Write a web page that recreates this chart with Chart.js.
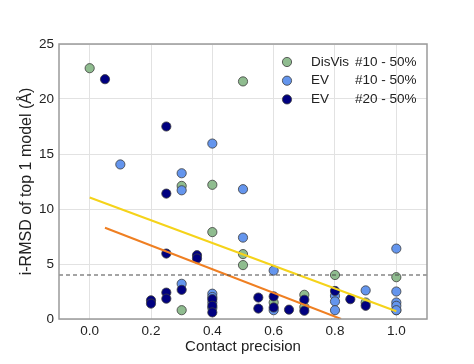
<!DOCTYPE html>
<html>
<head>
<meta charset="utf-8">
<script src="https://cdn.jsdelivr.net/npm/chart.js@4.4.1/dist/chart.umd.min.js"></script>
<style>
html, body { margin: 0; padding: 0; background: #fff; }
</style>
</head>
<body>
<canvas id="myChart" width="474" height="364"></canvas>
<script>
// DisVis #10 - 50%
const disvis_x = [0.0, 0.5, 0.3, 0.4, 0.4, 0.5, 0.5, 0.3, 0.8, 1.0, 0.9, 0.7, 0.7, 0.6, 1.0];
const disvis_y = [22.8, 21.6, 12.1, 12.2, 7.9, 5.9, 4.9, 0.8, 4.0, 3.8, 1.5, 2.2, 1.1, 1.5, 0.8];

// EV #10 - 50%
const ev10_x = [0.1, 0.3, 0.3, 0.4, 0.5, 0.5, 1.0, 0.6, 0.3, 0.4, 0.4, 0.4, 0.4, 0.6, 0.8, 0.8, 0.8, 0.9, 1.0, 1.0, 1.0, 1.0];
const ev10_y = [14.05, 13.25, 11.7, 15.95, 11.8, 7.4, 6.4, 4.4, 3.2, 2.3, 2.0, 1.5, 1.0, 0.8, 2.1, 1.6, 0.8, 2.6, 2.5, 1.5, 1.2, 0.8];

// EV #20 - 50%
const ev20_x = [0.05, 0.25, 0.25, 0.25, 0.35, 0.35, 0.2, 0.2, 0.25, 0.25, 0.3, 0.4, 0.4, 0.4, 0.55, 0.55, 0.6, 0.6, 0.65, 0.7, 0.7, 0.8, 0.85, 0.9];
const ev20_y = [21.8, 17.5, 11.4, 5.95, 5.8, 5.5, 1.7, 1.4, 2.4, 1.85, 2.65, 1.8, 1.2, 0.6, 1.95, 0.95, 2.05, 1.05, 0.85, 1.75, 0.75, 2.55, 1.8, 1.2];

// fit lines (end points)
const fit_disvis_x = [0.0, 1.0];
const fit_disvis_y = [11.05, 0.7];
const fit_ev_x = [0.05, 0.82];
const fit_ev_y = [8.3, 0.0];

const threshold = 4;
const x_ticks = [0.0, 0.2, 0.4, 0.6, 0.8, 1.0];
const y_ticks = [0, 5, 10, 15, 20, 25];

const legend_names = ['DisVis', 'EV', 'EV'];
const legend_runs = ['#10 - 50%', '#10 - 50%', '#20 - 50%'];
const colors = ['#8fbc8f', '#6495ed', '#000080'];

const toPoints = (xs, ys) => xs.map((x, i) => ({ x: x, y: ys[i] }));

const pointSet = (label, xs, ys, color, order) => ({
	label: label,
	data: toPoints(xs, ys),
	backgroundColor: color,
	borderColor: '#3c3c3c',
	borderWidth: 0.8,
	pointRadius: 4.6,
	order: order
});

const lineSet = (xs, ys, color, width, dash) => ({
	data: toPoints(xs, ys),
	showLine: true,
	borderColor: color,
	borderWidth: width,
	borderDash: dash,
	pointRadius: 0,
	order: 0
});

const font = 'Liberation Sans, Arial, sans-serif';

const boxAndLegend = {
	id: 'boxAndLegend',
	afterDraw(chart) {
		const c = chart.ctx;
		const a = chart.chartArea;
		c.save();
		c.strokeStyle = '#9a9a9a';
		c.lineWidth = 1.5;
		c.strokeRect(a.left, a.top, a.right - a.left, a.bottom - a.top);

		c.font = '13.5px ' + font;
		c.textBaseline = 'middle';
		legend_names.forEach((name, i) => {
			const y = a.top + 18 + i * 18.7;
			c.beginPath();
			c.arc(a.right - 140, y, 4.6, 0, Math.PI * 2);
			c.fillStyle = colors[i];
			c.fill();
			c.lineWidth = 0.8;
			c.strokeStyle = '#3c3c3c';
			c.stroke();
			c.fillStyle = '#222';
			c.fillText(name, a.right - 116, y);
			c.fillText(legend_runs[i], a.right - 72, y);
		});
		c.restore();
	}
};

const ctx = document.getElementById('myChart').getContext('2d');
let myChart = new Chart(ctx, {
	type: 'scatter',
	data: {
		datasets: [
			pointSet('DisVis #10 - 50%', disvis_x, disvis_y, colors[0], 3),
			pointSet('EV #10 - 50%', ev10_x, ev10_y, colors[1], 2),
			pointSet('EV #20 - 50%', ev20_x, ev20_y, colors[2], 1),
			lineSet([-0.1, 1.1], [threshold, threshold], '#4a4a4a', 1.1, [4, 3]),
			lineSet(fit_disvis_x, fit_disvis_y, '#f5d31a', 2),
			lineSet(fit_ev_x, fit_ev_y, '#ef7f22', 2)
		]
	},
	options: {
		responsive: false,
		animation: false,
		layout: { padding: { top: 44, right: 47, left: 0, bottom: 0 } },
		plugins: {
			legend: { display: false },
			tooltip: { enabled: false }
		},
		scales: {
			x: {
				type: 'linear',
				min: -0.1,
				max: 1.1,
				afterBuildTicks: s => { s.ticks = x_ticks.map(v => ({ value: v })); },
				afterFit: s => { s.height = 45; },
				grid: { color: '#e2e2e2', drawTicks: false },
				border: { display: false },
				ticks: {
					padding: 4,
					color: '#222',
					font: { size: 13.5, family: font },
					callback: v => v.toFixed(1)
				},
				title: {
					display: true,
					text: 'Contact precision',
					color: '#222',
					font: { size: 15, family: font },
					padding: { top: 0, bottom: 8 }
				}
			},
			y: {
				type: 'linear',
				min: 0,
				max: 25,
				afterBuildTicks: s => { s.ticks = y_ticks.map(v => ({ value: v })); },
				afterFit: s => { s.width = 59; },
				grid: { color: '#e2e2e2', drawTicks: false },
				border: { display: false },
				ticks: {
					padding: 5,
					color: '#222',
					font: { size: 13.5, family: font }
				},
				title: {
					display: true,
					text: 'i-RMSD of top 1 model (Å)',
					color: '#222',
					font: { size: 16, family: font },
					padding: { top: 17, bottom: 0 }
				}
			}
		}
	},
	plugins: [boxAndLegend]
});
</script>
</body>
</html>
